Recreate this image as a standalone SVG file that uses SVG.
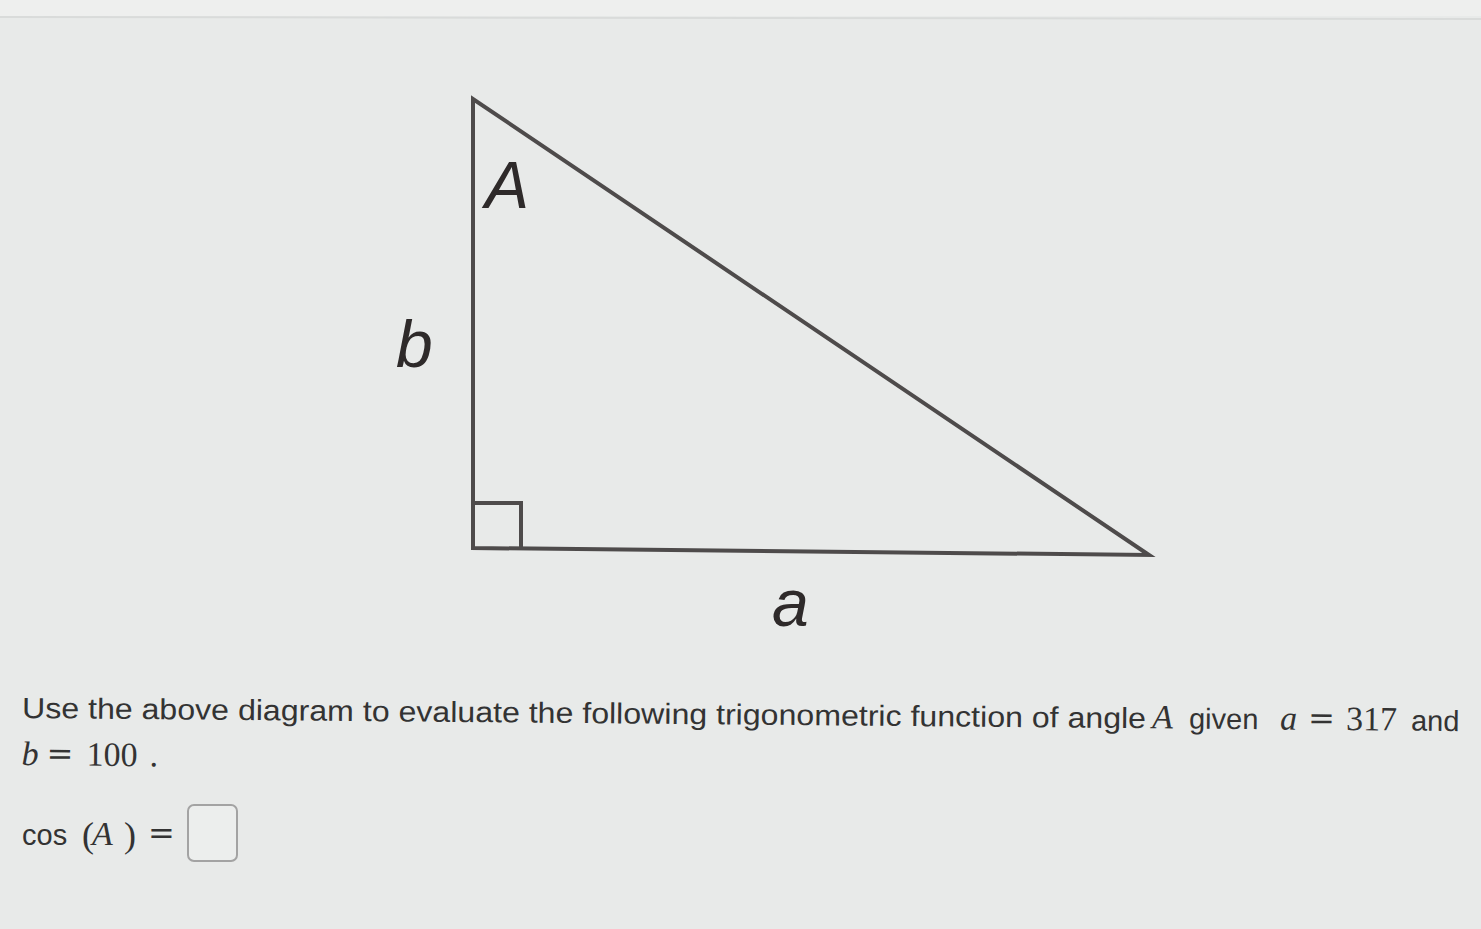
<svg xmlns="http://www.w3.org/2000/svg" width="1481" height="929" viewBox="0 0 1481 929">
<style>
.sans{font-family:"Liberation Sans",Arial,sans-serif;fill:#333333}
.math{font-family:"Liberation Serif","Times New Roman",serif;fill:#333333}
.eq{font-family:"DejaVu Serif",serif;fill:#333333}
.it{font-style:italic}
.lbl{font-family:"Liberation Sans",Arial,sans-serif;font-style:italic;fill:#2e2a2a}
.edge{stroke:#4e4b4b;stroke-width:4;fill:none;stroke-linejoin:miter}
</style>
<rect width="1481" height="929" fill="#e8eae9"/>
<rect x="0" y="0" width="1481" height="16" fill="#eeefee"/>
<line x1="0" y1="17" x2="1481" y2="19" stroke="#d9dbda" stroke-width="2"/>
<g id="triangle">
<polygon class="edge" points="473,99 473,548 1149,555"/>
<polyline class="edge" points="475,503 521,503 521,548" stroke-width="3.5"/>
</g>
<g id="labels">
<text class="lbl" x="485" y="208" font-size="66">A</text>
<text class="lbl" x="396" y="367" font-size="66">b</text>
<text class="lbl" x="772" y="626" font-size="66">a</text>
</g>
<g id="question" transform="rotate(0.52 22 718)">
<text class="sans" x="22" y="718" font-size="29" textLength="1124" lengthAdjust="spacingAndGlyphs">Use the above diagram to evaluate the following trigonometric function of angle</text>
<text class="math it" x="1152" y="718" font-size="34">A</text>
<text class="sans" x="1189" y="718" font-size="29">given</text>
<text class="math it" x="1280" y="718" font-size="34">a</text>
<text class="eq" x="1308" y="717" font-size="32">=</text>
<text class="math" x="1346" y="718" font-size="34">317</text>
<text class="sans" x="1411" y="718" font-size="29">and</text>
<text class="math it" x="22" y="765" font-size="34">b</text>
<text class="eq" x="47" y="764" font-size="32">=</text>
<text class="math" x="87" y="765" font-size="34">100</text>
<text class="math" x="150" y="765" font-size="34">.</text>
</g>
<g id="answer">
<text class="sans" x="22" y="845" font-size="29">cos</text>
<text class="math" x="82" y="847" font-size="36">(</text>
<text class="math it" x="92" y="845" font-size="34">A</text>
<text class="math" x="124" y="847" font-size="36">)</text>
<text class="eq" x="148" y="844" font-size="32">=</text>
<rect x="188" y="805" width="49" height="56" rx="6" fill="#eceeed" stroke="#a3a3a3" stroke-width="2"/>
</g>
</svg>
